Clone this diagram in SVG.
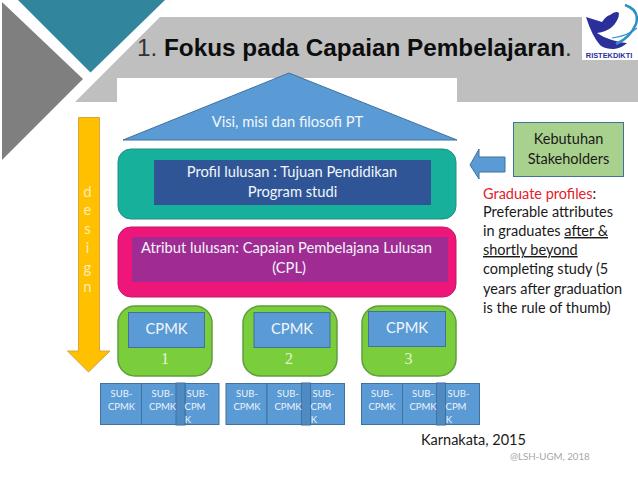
<svg xmlns="http://www.w3.org/2000/svg" width="638" height="478" viewBox="0 0 638 478">
<style>
text{font-family:Lato,"Open Sans","Liberation Sans",sans-serif}
.w{fill:#fdebb8;text-anchor:middle;font-size:15px}
.l{font-size:14.700px;fill:#f2f6fb;text-anchor:middle}
.d{font-size:16px;fill:#e4f3d6;text-anchor:middle;font-family:'Liberation Serif',serif}
.k{font-size:14.500px;fill:#1a1a1a}
.sub{font-size:9.500px;fill:#eef4fa;text-anchor:middle}
.sb{fill:#5b9bd5;stroke:#41719c;stroke-width:1}
.nb{fill:#4f8bc2;stroke:#41719c;stroke-width:1}
.gb{fill:#7ace3c;stroke:#5f9e3a;stroke-width:1.500}
.cp{fill:#5b9bd5;stroke:#41719c;stroke-width:1}
</style>
<rect width="638" height="478" fill="#fff"/>
<g id="background">
<polygon points="2,2 83,79 2,160" fill="#7f7f7f"/>
<polygon points="18,0 165,0 90.500,72.500" fill="#31859c"/>
<polygon points="160,17 582,17 582,60 638,60 638,102 457,102 457,78 117,78 117,102 75,102" fill="#bfbfbf"/>
</g>
<text id="title" x="137" y="56" font-size="24.300" fill="#0d0d0d" style="font-family:'Liberation Sans',sans-serif"><tspan fill="#333">1. </tspan><tspan font-weight="700">Fokus pada Capaian Pembelajaran</tspan><tspan fill="#333">.</tspan></text>
<g id="logo">
<path d="M586 17L602 22Q606 16 610 15Q616 10 619 13Q619 20 612 27Q606 32 597 33Q604 38 612 40Q622 43 627 43Q622 48 614 49Q604 49 600 45Q592 36 586 17Z" fill="#2a2f9c"/>
<path d="M625 5Q640 10 636 24Q630 38 616 44" fill="none" stroke="#2f8fc8" stroke-width="2.500"/>
<path d="M612 38Q628 36 637 28" fill="none" stroke="#2f8fc8" stroke-width="1.200"/>
<text x="609" y="58" font-size="7.400" font-weight="700" fill="#2a2f9c" text-anchor="middle" style="font-family:'Liberation Sans',sans-serif">RISTEKDIKTI</text>
</g>
<g id="design-arrow">
<polygon points="78.500,117.500 99.500,117.500 99.500,351 110,351 88.500,372 67.500,351 78.500,351" fill="#ffc000" stroke="#d9a441" stroke-width="1"/>
<text class="w" x="87.500" y="197">d</text><text class="w" x="87.500" y="215">e</text><text class="w" x="87.500" y="234">s</text><text class="w" x="87.500" y="253">i</text><text class="w" x="87.500" y="273">g</text><text class="w" x="87.500" y="292">n</text>
</g>
<g id="visi">
<polygon points="123,140 289,73 457,140" fill="#5b9bd5" stroke="#41719c" stroke-width="1"/>
<text class="l" x="287.500" y="127">Visi, misi dan filosofi PT</text>
</g>
<g id="profil">
<rect x="118" y="149" width="338" height="70" rx="13" fill="#17b09a" stroke="#1f8f86" stroke-width="1"/>
<rect x="154" y="160" width="277" height="45" fill="#2f5597"/>
<text class="l" x="292" y="177">Profil lulusan : Tujuan Pendidikan</text>
<text class="l" x="292.500" y="197">Program studi</text>
</g>
<g id="atribut">
<rect x="118" y="227" width="338" height="70" rx="13" fill="#ee1779" stroke="#c0186a" stroke-width="1"/>
<rect x="132" y="237" width="316" height="45" fill="#a02b93"/>
<text class="l" x="286.500" y="253">Atribut lulusan: Capaian Pembelajana Lulusan</text>
<text class="l" x="289" y="273">(CPL)</text>
</g>
<g id="cpmk1">
<rect class="gb" x="118" y="306" width="94" height="70" rx="17"/>
<rect class="cp" x="128.500" y="312.500" width="76" height="35"/>
<text class="l" x="166.500" y="334">CPMK</text>
<text class="d" x="165" y="364">1</text>
</g>
<g id="cpmk2">
<rect class="gb" x="243" y="306" width="94" height="70" rx="17"/>
<rect class="cp" x="254" y="312.500" width="76" height="35"/>
<text class="l" x="292" y="334">CPMK</text>
<text class="d" x="289" y="364">2</text>
</g>
<g id="cpmk3">
<rect class="gb" x="362" y="306" width="94" height="70" rx="17"/>
<rect class="cp" x="368.500" y="311.500" width="77" height="35"/>
<text class="l" x="407" y="333">CPMK</text>
<text class="d" x="408.500" y="364">3</text>
</g>
<g id="sub1">
<rect class="sb" x="100.500" y="383.500" width="41" height="41"/>
<rect class="sb" x="141.500" y="383.500" width="41" height="41"/>
<rect class="sb" x="185" y="383.500" width="34" height="41"/>
<rect class="nb" x="176" y="383" width="9" height="42"/>
<text class="sub" x="121.500" y="397">SUB-</text><text class="sub" x="121.500" y="409.500">CPMK</text>
<text class="sub" x="162.500" y="397">SUB-</text><text class="sub" x="162.500" y="409.500">CPMK</text>
<text class="sub" x="197.500" y="397">SUB-</text><text class="sub" x="195" y="409.500">CPM</text><text class="sub" x="188" y="423">K</text>
</g>
<g id="sub2">
<rect class="sb" x="226" y="383.500" width="41" height="41"/>
<rect class="sb" x="267" y="383.500" width="41" height="41"/>
<rect class="sb" x="310.500" y="383.500" width="34" height="41"/>
<rect class="nb" x="301.500" y="383" width="9" height="42"/>
<text class="sub" x="247" y="397">SUB-</text><text class="sub" x="247" y="409.500">CPMK</text>
<text class="sub" x="288" y="397">SUB-</text><text class="sub" x="288" y="409.500">CPMK</text>
<text class="sub" x="323.500" y="397">SUB-</text><text class="sub" x="321" y="409.500">CPM</text><text class="sub" x="314" y="423">K</text>
</g>
<g id="sub3">
<rect class="sb" x="361.500" y="383.500" width="41" height="41"/>
<rect class="sb" x="402.500" y="383.500" width="41" height="41"/>
<rect class="sb" x="445.500" y="383.500" width="34" height="41"/>
<rect class="nb" x="436.500" y="383" width="9" height="42"/>
<text class="sub" x="382" y="397">SUB-</text><text class="sub" x="382" y="409.500">CPMK</text>
<text class="sub" x="423" y="397">SUB-</text><text class="sub" x="423" y="409.500">CPMK</text>
<text class="sub" x="458.500" y="397">SUB-</text><text class="sub" x="456" y="409.500">CPM</text><text class="sub" x="449" y="423">K</text>
</g>
<g id="kebutuhan">
<rect x="513.500" y="122.500" width="110" height="54" fill="#a9d18e" stroke="#41719c" stroke-width="1"/>
<text class="k" x="568.500" y="144" text-anchor="middle">Kebutuhan</text>
<text class="k" x="568.500" y="164" text-anchor="middle">Stakeholders</text>
</g>
<g id="connectors">
<polygon points="505,157 505,172 479,172 479,179 470,165 479,149 479,157" fill="#5b9bd5" stroke="#41719c" stroke-width="1"/>
</g>
<g id="notes">
<text class="k" x="483" y="199"><tspan fill="#e5202a">Graduate profiles</tspan>:</text>
<text class="k" x="483" y="217">Preferable attributes</text>
<text class="k" x="483" y="236">in graduates <tspan text-decoration="underline">after &amp;</tspan></text>
<text class="k" x="483" y="255" text-decoration="underline">shortly beyond</text>
<text class="k" x="483" y="274">completing study (5</text>
<text class="k" x="483" y="294">years after graduation</text>
<text class="k" x="483" y="313">is the rule of thumb)</text>
<text class="k" x="421" y="445">Karnakata, 2015</text>
<text x="510" y="460" font-size="9.700" fill="#a6a6a6">@LSH-UGM, 2018</text>
</g>
</svg>
